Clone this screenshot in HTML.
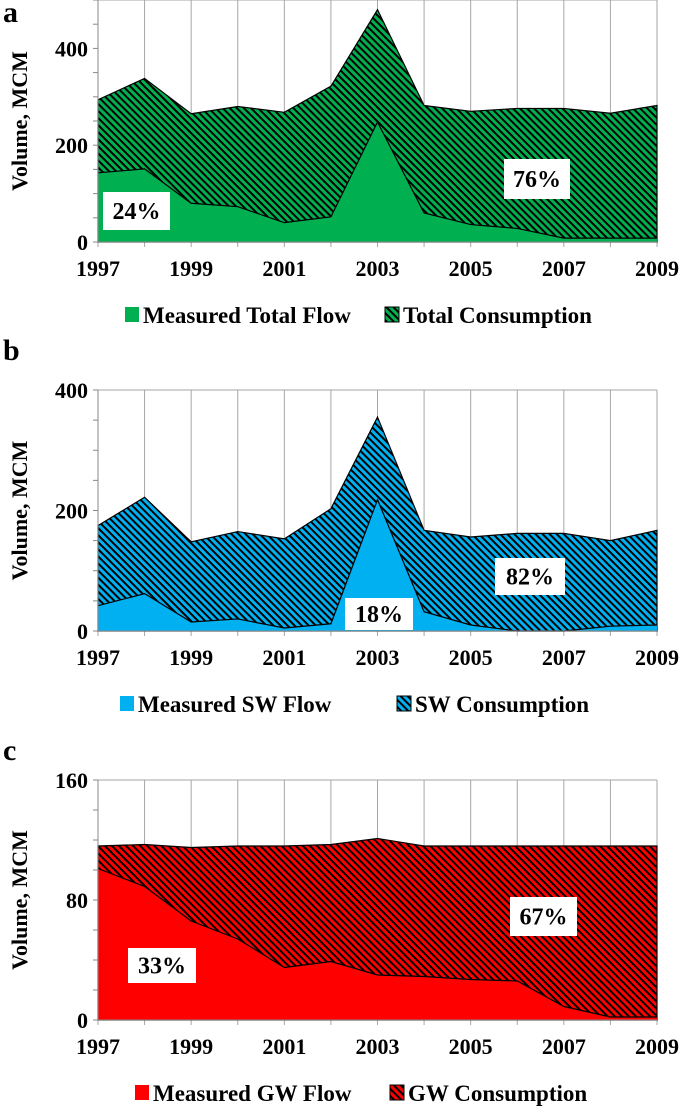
<!DOCTYPE html>
<html><head><meta charset="utf-8"><style>
body{margin:0;background:#fff;}
svg{display:block;font-family:"Liberation Serif",serif;font-weight:bold;}
</style></head><body>
<svg id="chart" width="685" height="1109" viewBox="0 0 685 1109" xmlns="http://www.w3.org/2000/svg">
<defs>
<pattern id="hg" width="5" height="5" patternUnits="userSpaceOnUse" patternTransform="rotate(-45)"><rect width="5" height="5" fill="#00b050"/><rect width="2" height="5" fill="#000"/></pattern>
<pattern id="hb" width="5" height="5" patternUnits="userSpaceOnUse" patternTransform="rotate(-45)"><rect width="5" height="5" fill="#00b0f0"/><rect width="2" height="5" fill="#000"/></pattern>
<pattern id="hr" width="5" height="5" patternUnits="userSpaceOnUse" patternTransform="rotate(-45)"><rect width="5" height="5" fill="#ff0000"/><rect width="2" height="5" fill="#000"/></pattern>
</defs>
</svg>
<script>
const years = [1997,1998,1999,2000,2001,2002,2003,2004,2005,2006,2007,2008,2009];
const xTickLabels = ['1997','1999','2001','2003','2005','2007','2009'];
const totalA = [294,338,265,280,268,322,480,282,270,276,276,266,282];
const flowA = [143,151,80,73,40,52,248,60,36,28,8,8,8];
const yTicksA = [0,200,400];
const totalB = [175,222,148,165,153,203,355,167,156,162,162,150,167];
const flowB = [42,62,15,20,5,12,218,32,10,0,0,8,10];
const yTicksB = [0,200,400];
const totalC = [116,117,115,116,116,117,121,116,116,116,116,116,116];
const flowC = [101,89,66,54,35,39,30,29,27,26,9,2,2];
const yTicksC = [0,80,160];

const NS='http://www.w3.org/2000/svg';
const svg=document.getElementById('chart');
function mk(tag,attrs,parent){const e=document.createElementNS(NS,tag);for(const k in attrs)e.setAttribute(k,attrs[k]);(parent||svg).appendChild(e);return e;}

function panel(cfg){
  const g=mk('g',{});
  
  
  const x0=98,x1=657;
  const xs=i=>x0+(x1-x0)*(i/(years.length-1));
  const ys=v=>cfg.y0-(cfg.y0-cfg.yTop)*(v/cfg.max);
  years.forEach((y,i)=>{const l=mk('line',{x1:xs(i),x2:xs(i),y1:cfg.yTop,y2:cfg.y0+5,stroke:'#a6a6a6','stroke-width':1},g);
    });
  mk('line',{x1:x0,x2:x1,y1:cfg.yTop,y2:cfg.yTop,stroke:'#a6a6a6'},g);
  let pts=years.map((y,i)=>xs(i)+','+ys(cfg.total[i])).join(' ');
  const ta=mk('polygon',{points:xs(0)+','+cfg.y0+' '+pts+' '+xs(years.length-1)+','+cfg.y0,fill:'url(#'+cfg.pat+')',stroke:'#000','stroke-width':1.2},g);
  
  let fp=years.map((y,i)=>xs(i)+','+ys(cfg.flow[i])).join(' ');
  const fa=mk('polygon',{points:xs(0)+','+cfg.y0+' '+fp+' '+xs(years.length-1)+','+cfg.y0,fill:cfg.color},g);
  
  const fl=mk('polyline',{points:fp,fill:'none',stroke:'#000','stroke-width':1.2},g);
  
  mk('line',{x1:x0,x2:x0,y1:cfg.yTop,y2:cfg.y0,stroke:'#888'},g);
  mk('line',{x1:x0-5,x2:x1,y1:cfg.y0,y2:cfg.y0,stroke:'#888'},g);
  for(let v=0;v<=cfg.max;v+=cfg.minor){mk('line',{x1:x0-5,x2:x0,y1:ys(v),y2:ys(v),stroke:'#888'},g);}
  cfg.yticks.forEach(v=>{const t=mk('text',{x:x0-10,y:ys(v)+8,'text-anchor':'end','font-size':22},g);t.textContent=v;
    });
  xTickLabels.forEach(lbl=>{const i=years.indexOf(+lbl);const t=mk('text',{x:xs(i),y:cfg.y0+34,'text-anchor':'middle','font-size':22},g);t.textContent=lbl;
    });
  const yt=mk('text',{transform:'translate(27,'+((cfg.y0+cfg.yTop)/2)+') rotate(-90)','text-anchor':'middle','font-size':22},g);
  yt.textContent='Volume,  MCM';
  const pl=mk('text',{x:3,y:cfg.labelY,'font-size':30},g);pl.textContent=cfg.letter;
  
  cfg.boxes.forEach(b=>{const r=mk('rect',{x:b[0],y:b[1],width:b[2],height:b[3],fill:'#fff'},g);
    
    const t=mk('text',{x:b[0]+b[2]/2,y:b[1]+b[3]/2+8,'text-anchor':'middle','font-size':24},g);t.textContent=b[4];
    });
  const ly=cfg.y0+81;
  const s1=mk('rect',{x:cfg.leg[0],y:ly-16,width:14,height:15,fill:cfg.color},g);
  
  const t1=mk('text',{x:cfg.leg[0]+18,y:ly,'font-size':23},g);t1.textContent=cfg.legText[0];
  
  const s2=mk('rect',{x:cfg.leg[1],y:ly-16,width:14,height:15,fill:'url(#'+cfg.pat+')',stroke:'#000'},g);
  
  const t2=mk('text',{x:cfg.leg[1]+18,y:ly,'font-size':23},g);t2.textContent=cfg.legText[1];
  
}
panel({name:'panel-a',letter:'a',labelY:22,y0:242,yTop:0,max:500,minor:50,yticks:yTicksA,total:totalA,flow:flowA,color:'#00b050',pat:'hg',
  boxes:[[103,192,67,38,'24%'],[504,159,66,40,'76%']],leg:[125,385],legText:['Measured Total Flow','Total Consumption']});
panel({name:'panel-b',letter:'b',labelY:360,y0:631,yTop:390,max:400,minor:50,yticks:yTicksB,total:totalB,flow:flowB,color:'#00b0f0',pat:'hb',
  boxes:[[345,598,68,32,'18%'],[495,558,70,37,'82%']],leg:[120,397],legText:['Measured SW Flow','SW Consumption']});
panel({name:'panel-c',letter:'c',labelY:760,y0:1020,yTop:780,max:160,minor:20,yticks:yTicksC,total:totalC,flow:flowC,color:'#ff0000',pat:'hr',
  boxes:[[128,948,68,35,'33%'],[510,897,67,39,'67%']],leg:[135,390],legText:['Measured GW Flow','GW Consumption']});
</script>
</body></html>
